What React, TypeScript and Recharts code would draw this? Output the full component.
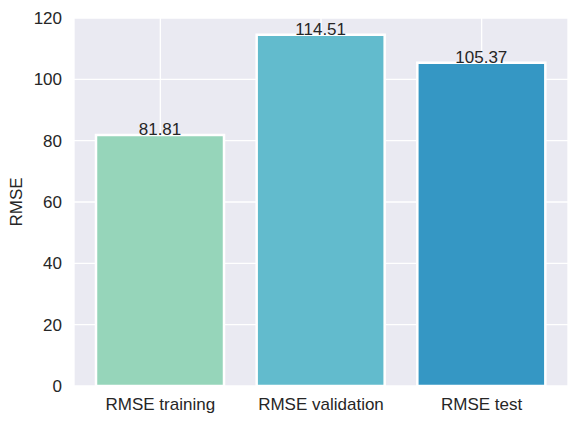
import { BarChart, Bar, XAxis, YAxis, CartesianGrid, Cell, LabelList } from "recharts";

const categories = ["RMSE training", "RMSE validation", "RMSE test"];
const rmseValues = [81.81, 114.51, 105.37];
const barColors = ["#96D5BA", "#62BBCD", "#3597C4"];
const yTicks = [0, 20, 40, 60, 80, 100, 120];

const data = categories.map((name, i) => ({ name, rmse: rmseValues[i] }));

const font = "'Liberation Sans', Arial, sans-serif";
const textColor = "#262626";
const fontSize = 17;

export default function App() {
  return (
    <div style={{ position: "absolute", left: 0, top: 0, background: "#fff" }}>
      <BarChart
        width={579}
        height={423}
        data={data}
        margin={{ top: 18, right: 11, bottom: 0, left: 0 }}
        style={{ fontFamily: font }}
      >
        <CartesianGrid stroke="#ffffff" strokeWidth={1.3} fill="#EAEAF2" fillOpacity={1} />
        <XAxis
          dataKey="name"
          axisLine={false}
          tickLine={false}
          tickSize={0}
          tickMargin={12}
          height={37}
          padding={{ left: 6, right: 6 }}
          tick={{ fill: textColor, fontSize, fontFamily: font }}
        />
        <YAxis
          domain={[0, 120]}
          ticks={yTicks}
          axisLine={false}
          tickLine={false}
          tickSize={0}
          tickMargin={12}
          width={74}
          tick={{ fill: textColor, fontSize, fontFamily: font }}
          label={{
            value: "RMSE",
            angle: -90,
            position: "insideLeft",
            offset: 16,
            style: { fill: textColor, fontSize, fontFamily: font, textAnchor: "middle" },
          }}
        />
        <Bar dataKey="rmse" barSize={128} stroke="#ffffff" strokeWidth={2.5} isAnimationActive={false}>
          {data.map((d, i) => (
            <Cell key={d.name} fill={barColors[i]} />
          ))}
          <LabelList
            dataKey="rmse"
            position="top"
            offset={0}
            style={{ fill: textColor, fontSize, fontFamily: font }}
          />
        </Bar>
      </BarChart>
    </div>
  );
}
